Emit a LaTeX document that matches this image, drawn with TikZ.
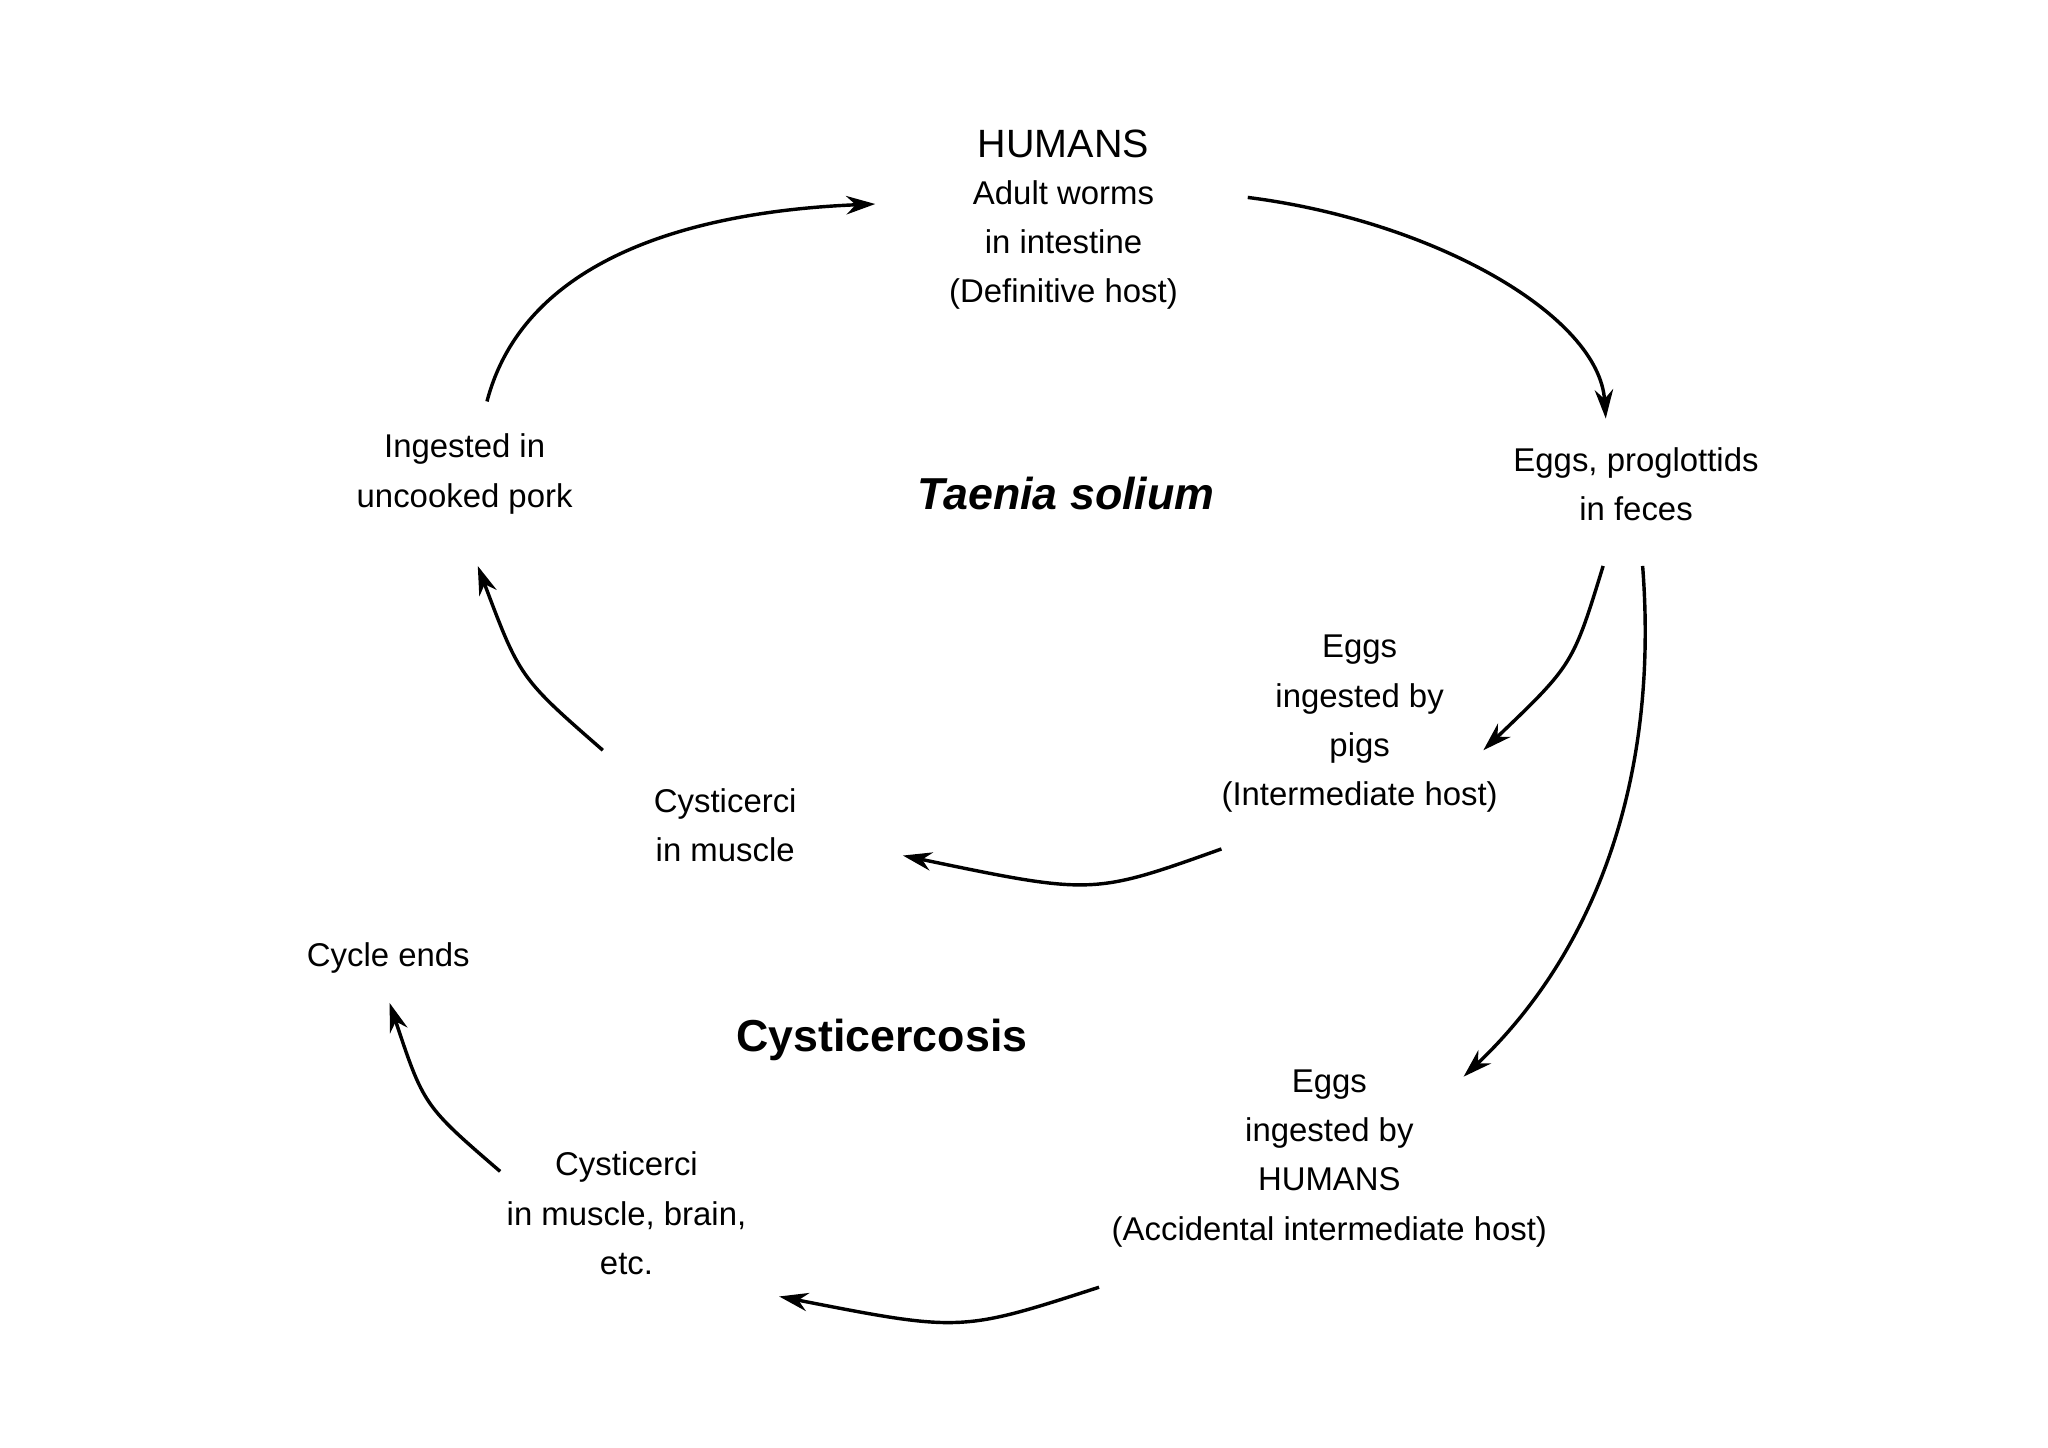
\documentclass[tikz,border=0pt]{standalone}
\usepackage{fontspec}
\setmainfont{Liberation Sans}
\usetikzlibrary{arrows.meta}
\begin{document}
\begin{tikzpicture}[x=1pt,y=-1pt,
  lbl/.style={align=center,font=\fontsize{25}{37.5}\selectfont,inner sep=0pt},
  arr/.style={line width=2.6pt,-{Stealth[length=22pt,width=14pt]}}]
\useasboundingbox (0,0) rectangle (1556,1100);
\node[lbl] (hum) at (808,167) {\fontsize{30}{40}\selectfont HUMANS\\[-2pt]Adult worms\\in intestine\\(Definitive host)};
\node[lbl,font=\fontsize{34}{40}\selectfont\bfseries\itshape] (ts) at (810,375) {Taenia solium};
\node[lbl] (pork) at (353,360) {Ingested in\\uncooked pork};
\node[lbl] (feces) at (1243,368) {Eggs, proglottids\\in feces};
\node[lbl] (pigs) at (1033,550) {Eggs\\ingested by\\pigs\\(Intermediate host)};
\node[lbl] (cm) at (551,627) {Cysticerci\\in muscle};
\node[lbl] (ce) at (295,728) {Cycle ends};
\node[lbl,font=\fontsize{34}{40}\selectfont\bfseries] (cc) at (670,790) {Cysticercosis};
\node[lbl] (cmb) at (476,922) {Cysticerci\\in muscle, brain,\\etc.};
\node[lbl] (acc) at (1010,880) {Eggs\\ingested by\\HUMANS\\(Accidental intermediate host)};
\coordinate (a1) at (370,305); \coordinate (b1) at (665,155);
\coordinate (a2) at (948,150); \coordinate (b2) at (1220,318);
\coordinate (a3) at (1218,430); \coordinate (b3) at (1127,570);
\coordinate (a4) at (1248,430); \coordinate (b4) at (1112,818);
\coordinate (a5) at (928,645); \coordinate (b5) at (686,650);
\coordinate (a6) at (458,570); \coordinate (b6) at (363,430);
\coordinate (a7) at (835,978); \coordinate (b7) at (592,985);
\coordinate (a8) at (380,890); \coordinate (b8) at (296,762);
\draw[arr] (a1) .. controls (400,190) and (540,160) .. (b1);
\draw[arr] (a2) .. controls (1090,168) and (1215,240) .. (b2);
\draw[arr] (a3) .. controls (1195,505) .. (b3);
\draw[arr] (a4) .. controls (1262,610) and (1200,735) .. (b4);
\draw[arr] (a5) .. controls (830,680) .. (b5);
\draw[arr] (a6) .. controls (395,515) .. (b6);
\draw[arr] (a7) .. controls (730,1012) .. (b7);
\draw[arr] (a8) .. controls (322,840) .. (b8);
\end{tikzpicture}
\end{document}
